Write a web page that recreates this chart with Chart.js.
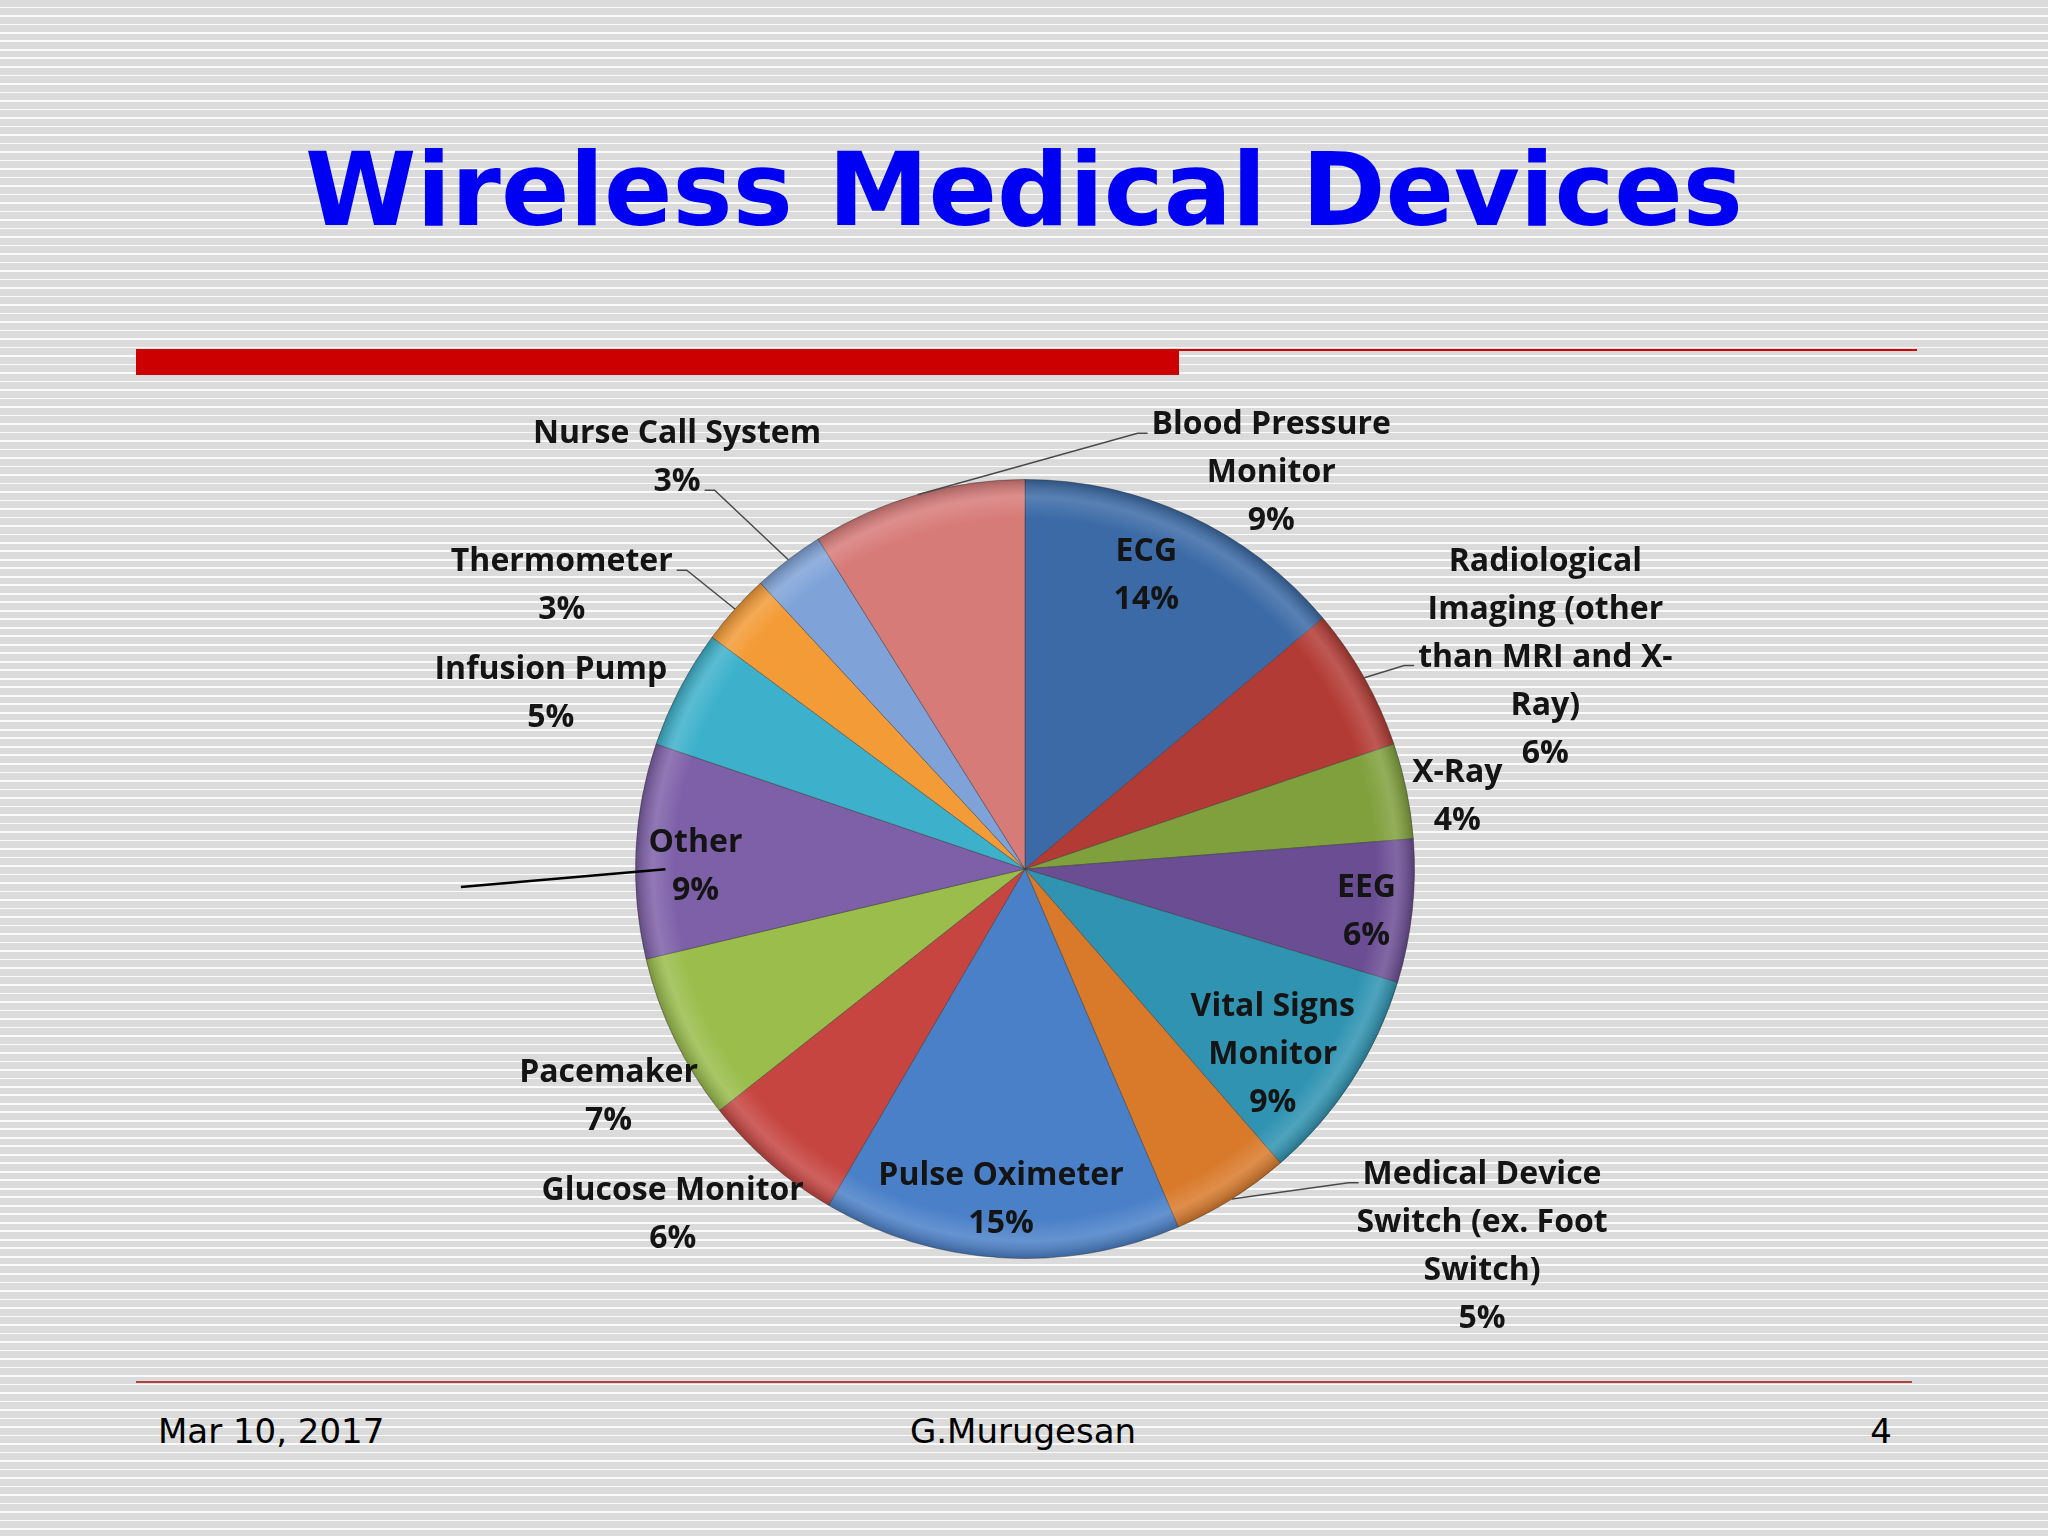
<!DOCTYPE html>
<html>
<head>
<meta charset="utf-8">
<title>Wireless Medical Devices</title>
<script src="https://cdn.jsdelivr.net/npm/chart.js@4.4.1/dist/chart.umd.min.js"></script>
<style>
  html, body { margin: 0; padding: 0; }
  body {
    width: 2048px; height: 1536px; position: relative; overflow: hidden;
    background: repeating-linear-gradient(to bottom, #dbdbdb 0px, #dbdbdb 6.5px, #fafafa 6.5px, #fafafa 8.5px);
  }
  .title {
    position: absolute; left: 0; top: 140px; width: 2048px; text-align: center;
    font: bold 101px/1 "DejaVu Sans", sans-serif; color: #0000f2; white-space: nowrap;
  }
  .bar { position: absolute; background: #cc0000; }
  .foot {
    position: absolute; top: 1414px; font: 34px/1 "DejaVu Sans", sans-serif; color: #000;
    white-space: nowrap;
  }
  #chart { position: absolute; left: 0; top: 0; }
</style>
</head>
<body>
<div class="title">Wireless Medical Devices</div>
<div class="bar" style="left:136px; top:349px; width:1043px; height:26px;"></div>
<div class="bar" style="left:1179px; top:349px; width:738px; height:2px;"></div>
<div class="bar" style="left:136px; top:1381px; width:1776px; height:2px; background:#b44040;"></div>
<div class="foot" style="left:158px;">Mar 10, 2017</div>
<div class="foot" style="left:0; width:2046px; text-align:center;">G.Murugesan</div>
<div class="foot" style="right:156px;">4</div>
<canvas id="chart" width="2048" height="1536"></canvas>

<script>
'use strict';

// slices, clockwise from 12 o'clock
const categories = [
    'ECG', 'Radiological Imaging (other than MRI and X-Ray)', 'X-Ray', 'EEG',
    'Vital Signs Monitor', 'Medical Device Switch (ex. Foot Switch)', 'Pulse Oximeter',
    'Glucose Monitor', 'Pacemaker', 'Other', 'Infusion Pump', 'Thermometer',
    'Nurse Call System', 'Blood Pressure Monitor'
];
const shares = [14, 6, 4, 6, 9, 5, 15, 6, 7, 9, 5, 3, 3, 9];

// label text as it is wrapped on the slide
const labelLines = [
    ['ECG'],
    ['Radiological', 'Imaging (other', 'than MRI and X-', 'Ray)'],
    ['X-Ray'],
    ['EEG'],
    ['Vital Signs', 'Monitor'],
    ['Medical Device', 'Switch (ex. Foot', 'Switch)'],
    ['Pulse Oximeter'],
    ['Glucose Monitor'],
    ['Pacemaker'],
    ['Other'],
    ['Infusion Pump'],
    ['Thermometer'],
    ['Nurse Call System'],
    ['Blood Pressure', 'Monitor']
];

const colors = [
    '#3b6aa6', '#b33b35', '#80a03d', '#6b4d94', '#2f93b1', '#d97a2b', '#4a80c8',
    '#c64541', '#9abd4c', '#7e60a9', '#3db1cb', '#f39b36', '#7fa3d8', '#d77b79'
];

// label placement: radius (in pie radii) and angle nudge (deg) from the slice middle
const labelPlace = [
    { r: 0.819, da: -2.6 }, { r: 1.444, da: 7.1 }, { r: 1.126, da: 1.9 }, { r: 0.883, da: 0.6 },
    { r: 0.793, da: 3.7 }, { r: 1.519, da: -18.5 }, { r: 0.846, da: 0.6 }, { r: 1.264, da: 4.7 },
    { r: 1.216, da: -2.6 }, { r: 0.846, da: -1.9 }, { r: 1.299, da: -7.2 }, { r: 1.396, da: -10.3 },
    { r: 1.386, da: -2.7 }, { r: 1.201, da: 47.8 }
];
// leader lines: which text line they start at, and on which side
const leaders = {
    1: { line: 2, side: 'left' },
    5: { line: 0, side: 'left' },
    11: { line: 0, side: 'right' },
    12: { line: 1, side: 'right' },
    13: { line: 0, side: 'left' }
};
// the stray black line crossing the "Other" slice
const strayLine = { index: 9, from: { r: 1.449, da: -4.5 }, to: { r: 0.923, da: -2.7 } };

const LABEL_FONT = 'bold 32px "Open Sans", sans-serif';
const LINE_GAP = 48;

const piePlugin = {
    id: 'slideLabels',
    afterDatasetsDraw(chart) {
        const ctx = chart.ctx;
        const arcs = chart.getDatasetMeta(0).data;
        if (!arcs.length) return;
        const { x: cx, y: cy, outerRadius: R } = arcs[0].getProps(['x', 'y', 'outerRadius'], true);

        // soft rim shading
        ctx.save();
        const g = ctx.createRadialGradient(cx, cy, 0, cx, cy, R);
        g.addColorStop(0, 'rgba(255,255,255,0)');
        g.addColorStop(0.9, 'rgba(255,255,255,0)');
        g.addColorStop(0.955, 'rgba(255,255,255,0.15)');
        g.addColorStop(1, 'rgba(0,0,0,0.22)');
        ctx.fillStyle = g;
        ctx.beginPath();
        ctx.arc(cx, cy, R, 0, Math.PI * 2);
        ctx.fill();
        ctx.restore();

        const polar = (arc, r, da) => {
            const p = arc.getProps(['startAngle', 'endAngle'], true);
            const a = (p.startAngle + p.endAngle) / 2 + da * Math.PI / 180;
            return { x: cx + r * R * Math.cos(a), y: cy + r * R * Math.sin(a) };
        };

        ctx.save();
        ctx.font = LABEL_FONT;
        ctx.fillStyle = '#141414';
        ctx.textAlign = 'center';
        ctx.textBaseline = 'alphabetic';

        arcs.forEach((arc, i) => {
            const lines = labelLines[i].concat([shares[i] + '%']);
            const place = labelPlace[i];
            const anchor = polar(arc, place.r, place.da);
            const n = lines.length;
            const base = k => anchor.y + 11 + (k - (n - 1) / 2) * LINE_GAP;
            lines.forEach((t, k) => ctx.fillText(t, anchor.x, base(k)));

            const ld = leaders[i];
            if (ld) {
                const w = ctx.measureText(lines[ld.line]).width;
                const y = base(ld.line) - 1;
                const dir = ld.side === 'left' ? -1 : 1;
                const x0 = anchor.x + dir * (w / 2 + 4);
                const x1 = x0 + dir * 10;
                const end = polar(arc, 1, 0);
                ctx.save();
                ctx.strokeStyle = '#4a4a4a';
                ctx.lineWidth = 1.5;
                ctx.beginPath();
                ctx.moveTo(x0, y);
                ctx.lineTo(x1, y);
                ctx.lineTo(end.x, end.y);
                ctx.stroke();
                ctx.restore();
            }
        });

        const sa = arcs[strayLine.index];
        const p0 = polar(sa, strayLine.from.r, strayLine.from.da);
        const p1 = polar(sa, strayLine.to.r, strayLine.to.da);
        ctx.strokeStyle = '#000';
        ctx.lineWidth = 2.5;
        ctx.beginPath();
        ctx.moveTo(p0.x, p0.y);
        ctx.lineTo(p1.x, p1.y);
        ctx.stroke();
        ctx.restore();
    }
};

new Chart(document.getElementById('chart').getContext('2d'), {
    type: 'pie',
    data: {
        labels: categories,
        datasets: [{
            data: shares,
            backgroundColor: colors,
            borderColor: 'rgba(50,50,50,0.45)',
            borderWidth: 1
        }]
    },
    options: {
        responsive: false,
        animation: false,
        layout: { padding: { left: 635, top: 479, right: 633, bottom: 277 } },
        plugins: {
            legend: { display: false },
            tooltip: { enabled: false },
            title: { display: false }
        }
    },
    plugins: [piePlugin]
});
</script>
</body>
</html>
